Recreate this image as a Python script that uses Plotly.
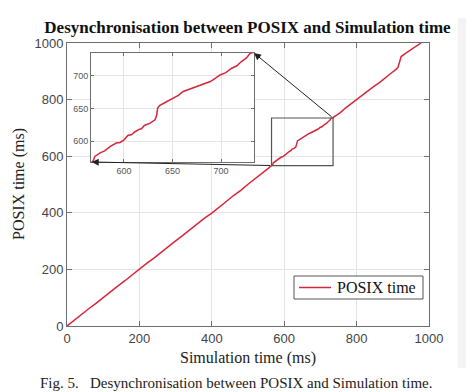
import plotly.graph_objects as go

# ---------------- data ----------------
sim_time_ms = [0, 20, 40, 60, 80, 100, 120, 140, 160, 180, 200, 220, 240, 260, 280,
               300, 320, 340, 360, 380, 400, 420, 440, 460, 480, 500, 520, 540, 556,
               566, 568, 570, 575, 580, 586, 592, 596, 600, 604, 608, 611, 616, 618,
               621, 627, 632, 633.7, 634.7, 637, 641, 646, 651, 656, 661, 668, 675,
               682, 689, 694, 699, 705, 711, 716, 721, 726, 730, 734,
               745, 755, 770, 785, 800, 817, 830, 845, 863, 880, 895, 909, 914, 918,
               923, 935, 946, 960, 978]
posix_time_ms = [0, 21, 40, 61, 80, 101, 119, 141, 160, 181, 200, 221, 240, 261, 279,
                 301, 320, 341, 360, 381, 399, 421, 440, 461, 479, 501, 520, 541, 557,
                 568, 569, 576.6, 581.6, 585, 592, 597, 598, 602, 608.7, 610, 614, 618.3, 619,
                 624, 627.5, 632.6, 640, 650.5, 655, 658, 662, 666.8, 670, 676, 680, 683.6,
                 688, 691.3, 696, 701.4, 705, 711.6, 715, 721.9, 727, 734.5, 736,
                 745, 754, 771, 786, 801, 819, 831, 844, 860, 879, 893, 907, 913, 930,
                 952, 963, 972, 984, 1000]
series_name = "POSIX time"
main_ticks = [0, 200, 400, 600, 800, 1000]
inset_ticks = [600, 650, 700]
zoom_x = [565, 735]
zoom_y = [567, 735]
inset_xrange = [566, 734]
inset_yrange = [568, 735]

# ---------------- layout helpers ----------------
OFF = 8                      # page body margin in the browser
W, H = 474 - OFF, 392 - OFF  # figure size
L, R, T, B = 67, 429, 43, 326            # main plot area, screen pixels
pw, ph = R - L, B - T

def px_x(p):  # screen pixel -> paper x
    return (p - L) / pw

def px_y(p):  # screen pixel -> paper y
    return (B - p) / ph

inset_dom_x = [px_x(91), px_x(254)]
inset_dom_y = [px_y(162), px_y(53)]

RED = "#d8263a"
AXC = "#6e6e6e"
GRID = "#e4e4e4"
SERIF = "Liberation Serif"
SANS = "Liberation Sans"

fig = go.Figure()
fig.add_trace(go.Scatter(x=sim_time_ms, y=posix_time_ms, mode="lines",
                         line=dict(color=RED, width=1.5), name=series_name,
                         showlegend=False, xaxis="x", yaxis="y"))
fig.add_trace(go.Scatter(x=sim_time_ms, y=posix_time_ms, mode="lines",
                         line=dict(color=RED, width=1.5), name=series_name,
                         showlegend=False, xaxis="x2", yaxis="y2"))

axis_common = dict(showline=True, linecolor=AXC, linewidth=1, mirror="ticks",
                   ticks="inside", tickcolor=AXC, showgrid=True, gridcolor=GRID,
                   gridwidth=1, zeroline=False)

fig.update_layout(
    width=W, height=H,
    margin=dict(l=L - OFF, r=(474 - R), t=T - OFF, b=(392 - B)),
    paper_bgcolor="white", plot_bgcolor="white",
    showlegend=False,
    xaxis=dict(range=[0, 1000], tickvals=main_ticks, ticklen=5,
               tickfont=dict(family=SANS, size=13, color="#444"),
               **axis_common),
    yaxis=dict(range=[0, 1000], tickvals=main_ticks, ticklen=5,
               tickfont=dict(family=SANS, size=13, color="#444"),
               **axis_common),
    xaxis2=dict(range=inset_xrange, tickvals=inset_ticks, ticklen=3, anchor="y2",
                domain=inset_dom_x,
                tickfont=dict(family=SANS, size=9, color="#555"), **axis_common),
    yaxis2=dict(range=inset_yrange, tickvals=inset_ticks, ticklen=3, anchor="x2",
                domain=inset_dom_y,
                tickfont=dict(family=SANS, size=9, color="#555"), **axis_common),
    title=dict(text="<b>Desynchronisation between POSIX and Simulation time</b>",
               x=(247.5 - OFF) / W, xanchor="center", xref="container",
               y=1 - (27 - OFF) / H, yanchor="middle", yref="container",
               font=dict(family=SERIF, size=17, color="#111")),
)

# light-gray strip at the right edge of the figure panel
fig.add_shape(type="rect", xref="paper", yref="paper",
              x0=px_x(458), x1=px_x(480), y0=px_y(368), y1=px_y(18),
              fillcolor="#f3f3f3", line=dict(width=0), layer="below")

# zoom rectangle in the main axes
fig.add_shape(type="rect", xref="x", yref="y",
              x0=zoom_x[0], x1=zoom_x[1], y0=zoom_y[0], y1=zoom_y[1],
              line=dict(color="#555", width=1.2))

# arrows from the zoom box to the inset corners (main-axis data units)
def paper_to_main(p):
    return p * 1000

arrow = dict(xref="x", yref="y", axref="x", ayref="y", showarrow=True,
             arrowhead=2, arrowsize=1.4, arrowwidth=1, arrowcolor="#222", text="")
fig.add_annotation(x=paper_to_main(inset_dom_x[1]), y=paper_to_main(inset_dom_y[1]),
                   ax=zoom_x[1], ay=zoom_y[1], **arrow)
fig.add_annotation(x=paper_to_main(inset_dom_x[0]) + 2, y=paper_to_main(inset_dom_y[0]),
                   ax=zoom_x[0], ay=zoom_y[0], **arrow)

# legend box (MATLAB style, compact)
fig.add_shape(type="rect", xref="paper", yref="paper",
              x0=px_x(294), x1=px_x(423), y0=px_y(299), y1=px_y(276),
              fillcolor="white", line=dict(color="#555", width=1))
fig.add_shape(type="line", xref="paper", yref="paper",
              x0=px_x(299), x1=px_x(331), y0=px_y(287.5), y1=px_y(287.5),
              line=dict(color=RED, width=1.5))
fig.add_annotation(text=series_name, xref="paper", yref="paper",
                   x=px_x(335), y=px_y(287.5), xanchor="left", yanchor="middle",
                   showarrow=False, font=dict(family=SERIF, size=16, color="#111"))

# axis titles
fig.add_annotation(text="Simulation time (ms)", xref="paper", yref="paper",
                   x=px_x(248), y=px_y(358), xanchor="center", yanchor="middle",
                   showarrow=False, font=dict(family=SERIF, size=16, color="#222"))
fig.add_annotation(text="POSIX time (ms)", xref="paper", yref="paper",
                   x=px_x(19), y=px_y(184), xanchor="center", yanchor="middle",
                   showarrow=False, textangle=-90,
                   font=dict(family=SERIF, size=16, color="#222"))
# caption
fig.add_annotation(text="Fig. 5.   Desynchronisation between POSIX and Simulation time.",
                   xref="paper", yref="paper", x=px_x(236), y=px_y(382.5),
                   xanchor="center", yanchor="middle",
                   showarrow=False, font=dict(family=SERIF, size=15, color="#222"))

fig.write_html("out.html")
